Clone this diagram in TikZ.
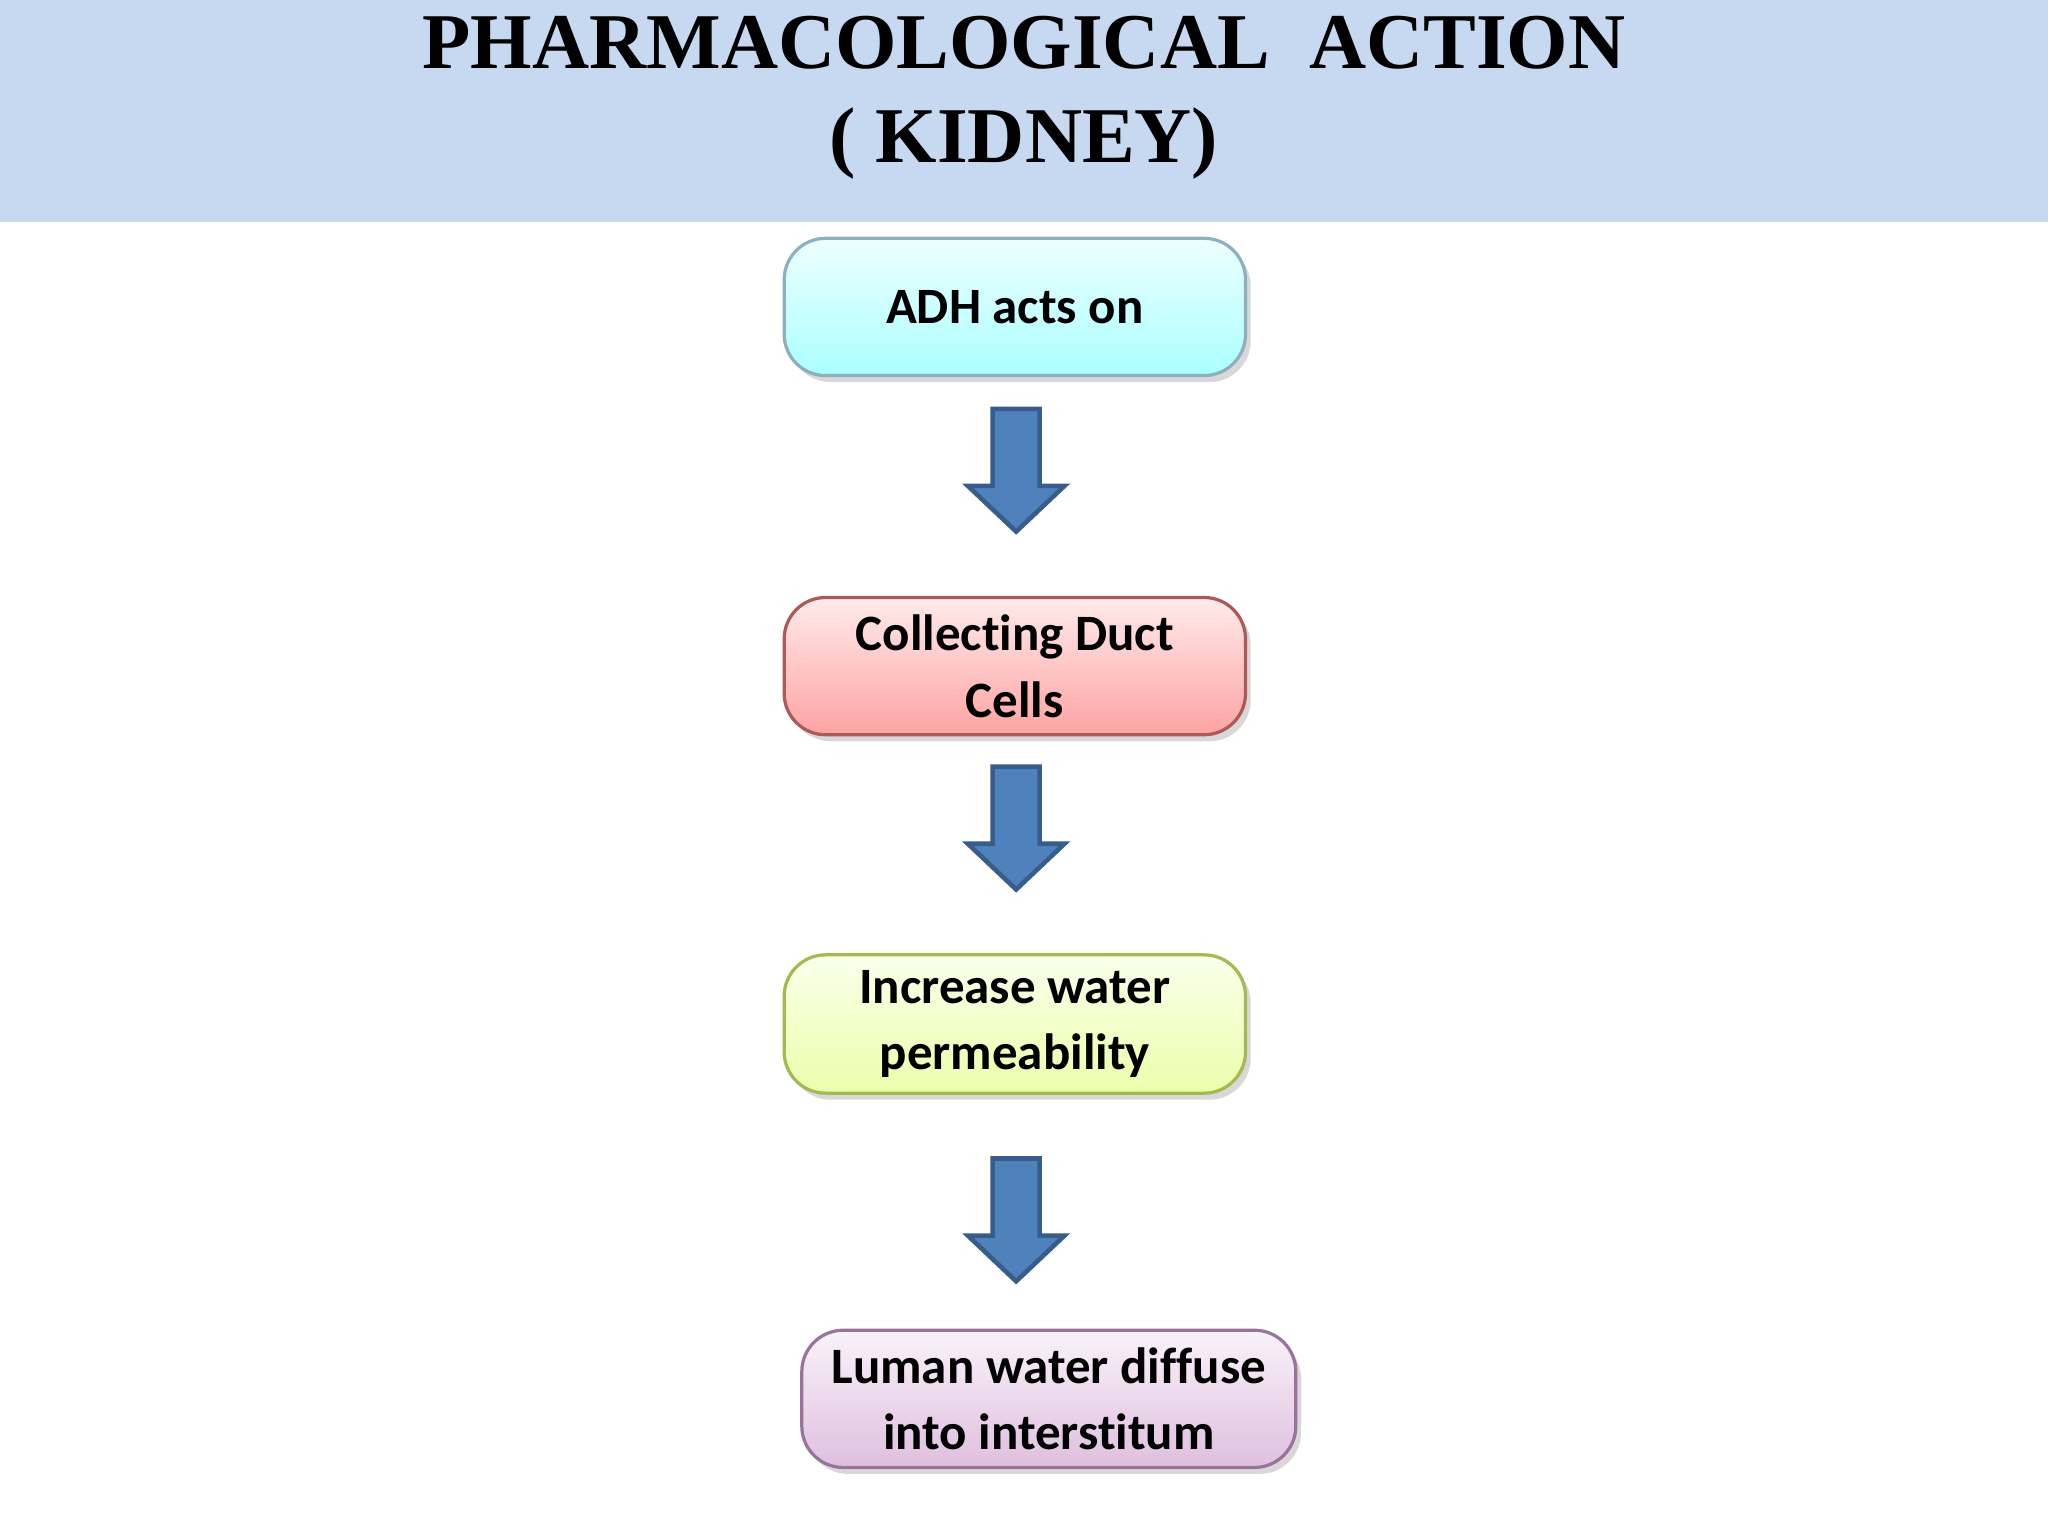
\documentclass[tikz,border=0pt]{standalone}
\usepackage{fontspec}
\setmainfont{Liberation Serif}
\newfontfamily\boxfont[Ligatures={NoCommon,NoRequired,NoContextual}]{Carlito}
\usetikzlibrary{shadows}
\definecolor{hdr}{HTML}{C6D9F0}
\definecolor{arrf}{HTML}{4F81BD}
\definecolor{arrd}{HTML}{385D8A}
\tikzset{
 flowbox/.style={draw, line width=0.7pt, rounded corners=9pt, minimum width=3.53cm, minimum height=1.05cm,
   align=center, font=\boxfont\bfseries\fontsize{11.1}{14.5}\selectfont,
   drop shadow={shadow xshift=0.04cm, shadow yshift=-0.05cm, fill=black!30, opacity=0.5}},
 bigarrow/.style={fill=arrf, draw=arrd, line width=1pt, line join=miter}
}
\begin{document}
\begin{tikzpicture}[x=0.01cm,y=-0.01cm]
\useasboundingbox (0,0) rectangle (1568,1176);
\fill[white] (0,0) rectangle (1568,1176);
\fill[hdr] (0,0) rectangle (1568,170);
\node[font=\bfseries\fontsize{17.2}{20.5}\selectfont, align=center] (title) at (784,75)
  {PHARMACOLOGICAL\ \ ACTION\\( KIDNEY)};
\node[flowbox, top color=cyan!7, bottom color=cyan!33!white, draw=cyan!50!black!55] (b1) at (777,235) {ADH acts on};
\node[flowbox, top color=red!8, bottom color=red!36!white, draw=red!50!black!65] (b2) at (777,510) {Collecting Duct\\Cells};
\node[flowbox, top color=lime!8!white, bottom color=lime!33!white, draw=olive!70!green!65] (b3) at (777,784) {Increase water\\permeability};
\node[flowbox, minimum width=3.78cm, top color=violet!5, bottom color=violet!25!white, draw=violet!55!black!55] (b4) at (803,1071) {Luman water diffuse\\into interstitum};
\foreach \t in {313,587,887}{
  \draw[bigarrow] (760,\t) -- (796,\t) -- (796,\t+59) -- (815,\t+59) -- (778,\t+94) -- (741,\t+59) -- (760,\t+59) -- cycle;
}
\end{tikzpicture}
\end{document}
